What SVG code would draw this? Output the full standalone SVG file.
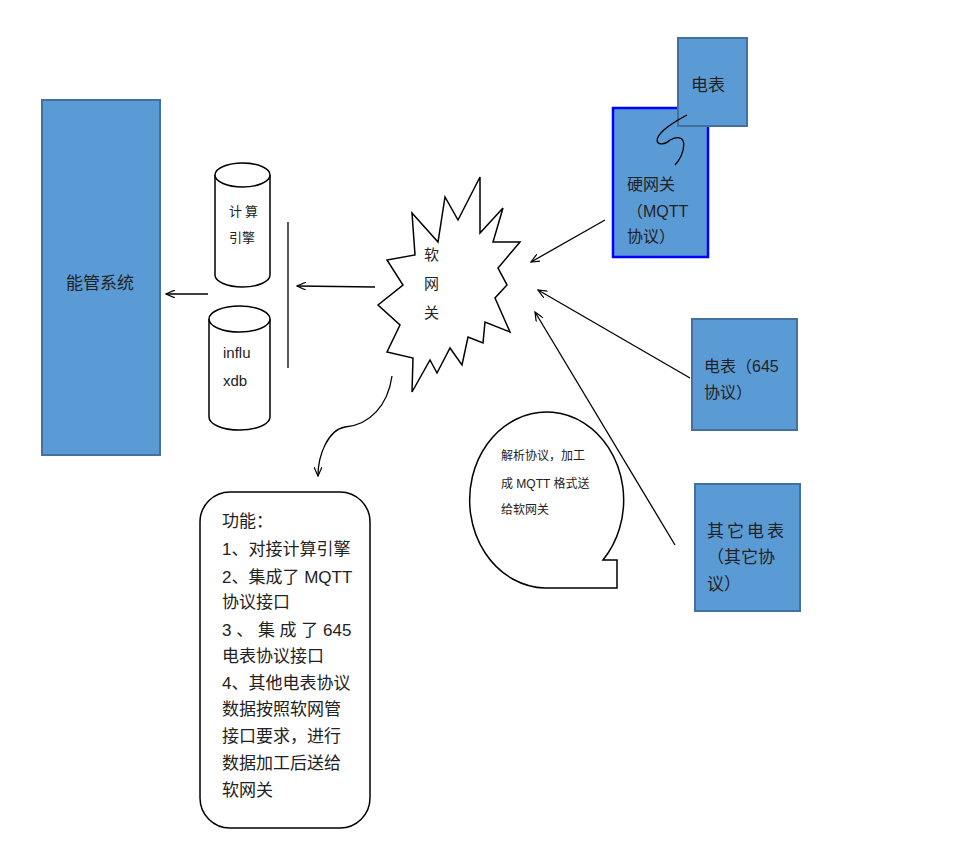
<svg xmlns="http://www.w3.org/2000/svg" width="963" height="841" viewBox="0 0 963 841">
<style>
text{font-family:"Liberation Sans","Noto Sans CJK SC",sans-serif;fill:#222}
.box{fill:#5b9bd5;stroke:#41719c;stroke-width:2}
.ln{fill:none;stroke:#000;stroke-width:1.3}
.sh{fill:#fff;stroke:#000;stroke-width:1.5}
</style>
<defs><marker id="a" markerWidth="10" markerHeight="8" refX="9" refY="4" orient="auto" markerUnits="userSpaceOnUse"><path d="M0,0 L9,4 L0,8" fill="none" stroke="#000" stroke-width="1.2"/></marker></defs>
<rect width="963" height="841" fill="#fff"/>
<g id="energy"><rect class="box" x="42" y="100" width="118" height="355"/><text x="66" y="289" font-size="17">能管系统</text></g>
<g id="calc"><path class="sh" d="M215,175 V275 A27.5,12 0 0 0 270,275 V175"/><ellipse class="sh" cx="242.5" cy="175" rx="27.5" ry="12"/><text x="229" y="216" font-size="13" letter-spacing="3">计算</text><text x="229" y="242" font-size="13">引擎</text></g>
<g id="influx"><path class="sh" d="M209,319 V417 A30.5,13 0 0 0 270,417 V319"/><ellipse class="sh" cx="239.5" cy="319" rx="30.5" ry="13"/><text x="223" y="358" font-size="15">influ</text><text x="223" y="386" font-size="15">xdb</text></g>
<g id="soft"><polygon class="sh" points="412,213 438,242 445,197 458,220 480,177 480,233 503,208 493,242 520,242 498,268 507,285 495,298 510,332 485,322 483,343 468,337 462,365 450,348 437,373 430,360 412,392 413,358 387,352 400,325 378,305 403,285 387,260 415,255"/><text x="424" y="260" font-size="15">软</text><text x="424" y="289" font-size="15">网</text><text x="424" y="318" font-size="15">关</text></g>
<g id="hard"><rect x="613" y="108" width="95" height="149" fill="#5b9bd5" stroke="#0000ff" stroke-width="2.5"/><text x="627" y="190" font-size="16">硬网关</text><text x="627" y="217" font-size="16">（MQTT</text><text x="627" y="242" font-size="16">协议）</text></g>
<g id="meter1"><rect class="box" x="678" y="38" width="69" height="88"/><text x="691" y="91" font-size="17">电表</text></g>
<path class="ln" d="M687,115 C640,140 660,150 670,140 C690,130 685,155 675,165"/>
<g id="meter645"><rect class="box" x="692" y="319" width="105" height="111"/><text x="704" y="372" font-size="16">电表（645</text><text x="704" y="398" font-size="16">协议）</text></g>
<g id="meterOther"><rect class="box" x="695" y="484" width="105" height="127"/><text x="707" y="537" font-size="17" letter-spacing="3">其它电表</text><text x="707" y="563" font-size="17">（其它协</text><text x="707" y="590" font-size="17">议）</text></g>
<g id="bubble"><path class="sh" d="M545,588 A77,88 0 1 1 603,560 L617,560 L617,588 Z"/><text x="501" y="460" font-size="12">解析协议，加工</text><text x="501" y="488" font-size="12">成 MQTT 格式送</text><text x="501" y="514" font-size="12">给软网关</text></g>
<g id="func"><rect class="sh" x="200" y="492" width="170" height="336" rx="30"/>
<g font-size="17"><text x="222" y="527">功能：</text><text x="222" y="555">1、对接计算引擎</text><text x="222" y="583">2、集成了 MQTT</text><text x="222" y="608">协议接口</text><text x="222" y="636">3 、 集 成 了 645</text><text x="222" y="662">电表协议接口</text><text x="222" y="689">4、其他电表协议</text><text x="222" y="715">数据按照软网管</text><text x="222" y="742">接口要求，进行</text><text x="222" y="769">数据加工后送给</text><text x="222" y="796">软网关</text></g></g>
<g id="connectors">
<line class="ln" x1="605" y1="220" x2="531" y2="262" marker-end="url(#a)"/>
<line class="ln" x1="690" y1="378" x2="538" y2="290" marker-end="url(#a)"/>
<line class="ln" x1="675" y1="545" x2="535" y2="312" marker-end="url(#a)"/>
<line class="ln" x1="375" y1="287" x2="297" y2="286" marker-end="url(#a)"/>
<line class="ln" x1="288" y1="222" x2="288" y2="368"/>
<line class="ln" x1="208" y1="294" x2="166" y2="294" marker-end="url(#a)"/>
<path class="ln" d="M392,376 C388,405 370,425 345,427 C328,430 318,455 318,476" marker-end="url(#a)"/>
</g>
</svg>
